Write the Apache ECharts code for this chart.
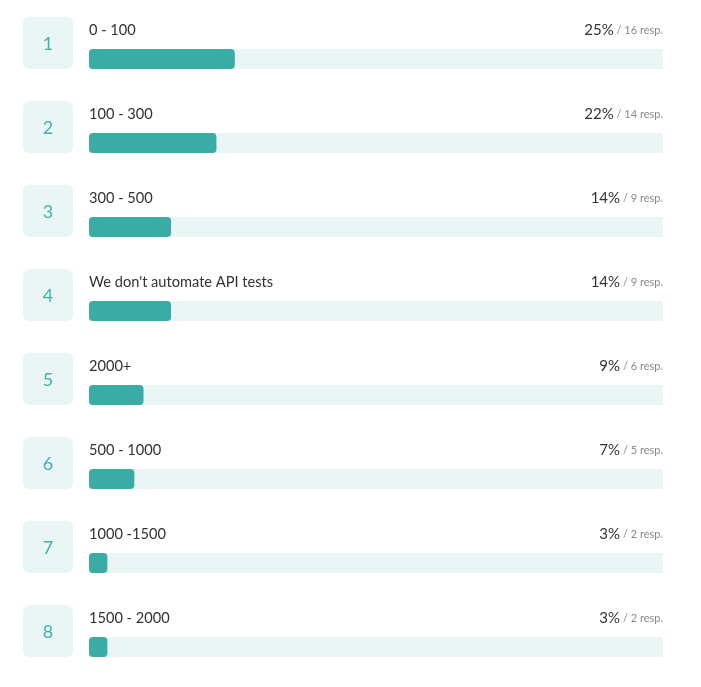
<!DOCTYPE html>
<html>
<head>
<meta charset="utf-8">
<script src="https://cdn.jsdelivr.net/npm/echarts@6/dist/echarts.min.js"></script>
<style>
  html, body { margin: 0; padding: 0; background: #fff; }
  #chart { width: 701px; height: 687px; }
</style>
</head>
<body>
<div id="chart"></div>
<script>
// answers, top to bottom
var categories = ["0 - 100", "100 - 300", "300 - 500", "We don't automate API tests",
    "2000+", "500 - 1000", "1000 -1500", "1500 - 2000"];
var percentLabels = ["25%", "22%", "14%", "14%", "9%", "7%", "3%", "3%"];
var respCounts = [16, 14, 9, 9, 6, 5, 2, 2];
// bar lengths (share of 63 answers)
var shares = [25.4, 22.2, 14.3, 14.3, 9.5, 7.9, 3.2, 3.2];

var TEAL = "#3aaba5";
var PALE = "#eaf6f6";
var FONT = "Lato, 'Open Sans', sans-serif";

var chart = echarts.init(document.getElementById("chart"));

var fullRow = categories.map(function () { return 100; });
var ranks = categories.map(function (c, i) { return [0, i]; });

chart.setOption({
    animation: false,
    grid: { left: 89, right: 38, top: 59, height: 588 },
    xAxis: { type: "value", min: 0, max: 100, show: false },
    yAxis: {
        type: "category",
        data: categories,
        inverse: true,
        boundaryGap: false,
        show: false
    },
    series: [
        {
            // pale track + texts
            type: "bar",
            data: fullRow,
            barWidth: 20,
            barGap: "-100%",
            itemStyle: { color: PALE, borderRadius: 2 },
            silent: true,
            label: {
                show: true,
                position: [0, -19],
                align: "left",
                verticalAlign: "middle",
                fontFamily: FONT,
                fontSize: 14.6,
                color: "#333",
                formatter: function (p) { return categories[p.dataIndex]; }
            }
        },
        {
            // right side text, anchored on the track's right end
            type: "bar",
            data: fullRow,
            barWidth: 20,
            barGap: "-100%",
            itemStyle: { color: "rgba(0,0,0,0)" },
            silent: true,
            label: {
                show: true,
                position: ["100%", -19],
                align: "right",
                verticalAlign: "middle",
                fontFamily: FONT,
                formatter: function (p) {
                    return "{p|" + percentLabels[p.dataIndex] + "}{r| / " + respCounts[p.dataIndex] + " resp.}";
                },
                rich: {
                    p: { fontFamily: FONT, fontSize: 15, color: "#333" },
                    r: { fontFamily: FONT, fontSize: 11, color: "#888" }
                }
            }
        },
        {
            type: "bar",
            data: shares,
            barWidth: 20,
            barGap: "-100%",
            z: 3,
            itemStyle: { color: TEAL, borderRadius: 4 }
        },
        {
            // rank boxes on the left
            type: "custom",
            data: ranks,
            clip: false,
            encode: { x: 0, y: 1 },
            renderItem: function (params, api) {
                var pt = api.coord([0, api.value(1)]);
                var x = pt[0] - 66, y = pt[1] - 42;
                return {
                    type: "group",
                    children: [
                        {
                            type: "rect",
                            shape: { x: x, y: y, width: 50, height: 52, r: 6 },
                            style: { fill: PALE }
                        },
                        {
                            type: "text",
                            style: {
                                x: x + 25, y: y + 27,
                                text: String(params.dataIndex + 1),
                                align: "center",
                                verticalAlign: "middle",
                                fontFamily: FONT,
                                fontSize: 18,
                                fill: "#45b0aa"
                            }
                        }
                    ]
                };
            }
        }
    ]
});
</script>
</body>
</html>
